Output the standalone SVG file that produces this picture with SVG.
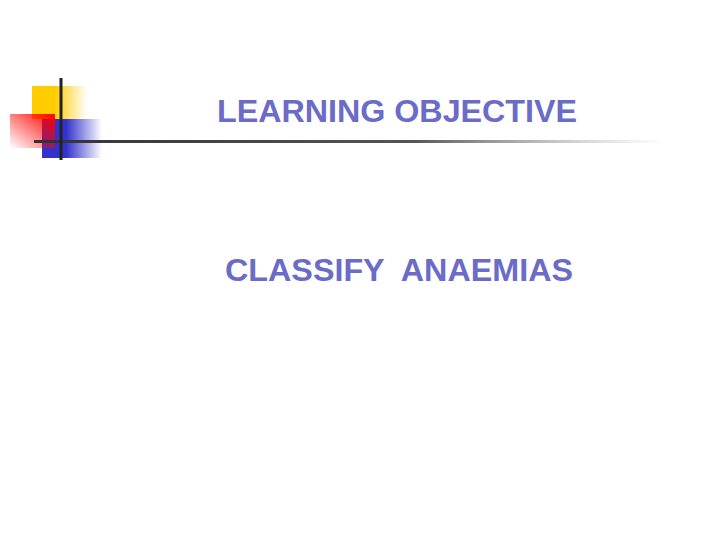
<svg xmlns="http://www.w3.org/2000/svg" width="720" height="540" viewBox="0 0 720 540">
<defs>
<linearGradient id="gy" x1="0" x2="1"><stop offset="0.4" stop-color="#ffcc00"/><stop offset="1" stop-color="#ffcc00" stop-opacity="0"/></linearGradient>
<linearGradient id="gb" x1="0" x2="1"><stop offset="0.4" stop-color="#3333cc"/><stop offset="1" stop-color="#3333cc" stop-opacity="0"/></linearGradient>
<linearGradient id="gr" x1="1" y1="0" x2="0" y2="1"><stop offset="0" stop-color="#ff0000"/><stop offset="1" stop-color="#ff0000" stop-opacity="0"/></linearGradient>
<linearGradient id="gl" x1="0" x2="1"><stop offset="0" stop-color="#333"/><stop offset="0.6" stop-color="#555"/><stop offset="1" stop-color="#999" stop-opacity="0"/></linearGradient>
<style>.t{font-family:"Liberation Sans",Arial,sans-serif;font-weight:bold;fill:#6b6bc8;font-size:32px}</style>
</defs>
<rect width="720" height="540" fill="#fff"/>
<g id="logo">
<rect x="32" y="86" width="55" height="33" fill="url(#gy)"/>
<rect x="42" y="119" width="60" height="39" fill="url(#gb)"/>
<rect x="10" y="114" width="45" height="34" fill="url(#gr)"/>
<rect x="34" y="140" width="632" height="3" fill="url(#gl)"/>
<rect x="59.5" y="78" width="3" height="82" fill="#222"/>
</g>
<g id="title"><text class="t" x="217" y="122" textLength="360" lengthAdjust="spacingAndGlyphs">LEARNING OBJECTIVE</text></g>
<g id="body"><text class="t" x="225" y="281" textLength="348" lengthAdjust="spacingAndGlyphs" xml:space="preserve">CLASSIFY  ANAEMIAS</text></g>
</svg>
